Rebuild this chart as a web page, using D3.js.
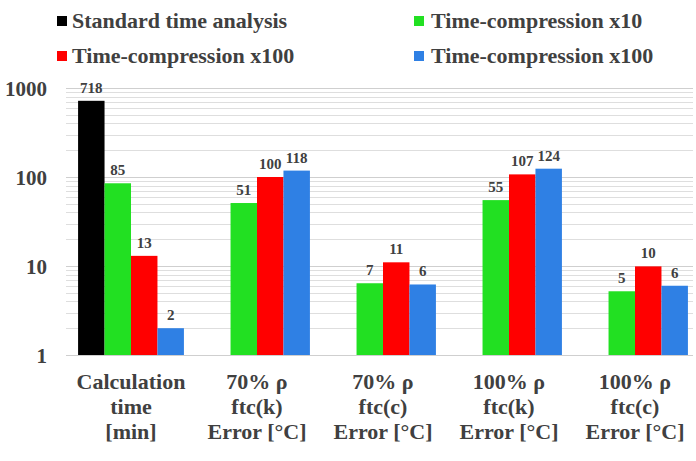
<!DOCTYPE html>
<html>
<head>
<meta charset="utf-8">
<script src="https://cdn.jsdelivr.net/npm/d3@7"></script>
<style>
  body { margin: 0; background: #fff; }
  svg text { font-family: "Liberation Serif", "Times New Roman", Times, "DejaVu Serif", serif; font-weight: bold; fill: #404040; }
</style>
</head>
<body>
<div id="body"></div>
<script>
// categories, each label split in lines
var categories = [
  ["Calculation", "time", "[min]"],
  ["70% \u03c1", "ftc(k)", "Error [\u00b0C]"],
  ["70% \u03c1", "ftc(c)", "Error [\u00b0C]"],
  ["100% \u03c1", "ftc(k)", "Error [\u00b0C]"],
  ["100% \u03c1", "ftc(c)", "Error [\u00b0C]"]
];
var seriesNames = ["Standard time analysis", "Time-compression x10", "Time-compression x100", "Time-compression x100"];
var seriesColors = ["#000000", "#22e022", "#ff0000", "#2f80e4"];

// bar heights (null = no bar)
var standardVals = [718, null, null, null, null];
var x10Vals      = [85, 51, 6.4, 55, 5.2];
var x100Vals     = [13, 100, 11, 107, 9.9];
var x100bVals    = [2, 118, 6.2, 124, 6];

// printed labels above the bars
var standardLabels = ["718", null, null, null, null];
var x10Labels      = ["85", "51", "7", "55", "5"];
var x100Labels     = ["13", "100", "11", "107", "10"];
var x100bLabels    = ["2", "118", "6", "124", "6"];

var yTicks = [1, 10, 100, 1000];

var W = 696, H = 461;
var svg = d3.select("#body").append("svg").attr("width", W).attr("height", H);

var allVals = [standardVals, x10Vals, x100Vals, x100bVals];
var allLabels = [standardLabels, x10Labels, x100Labels, x100bLabels];

var x = d3.scaleBand()
    .domain(d3.range(categories.length))
    .range([68, 698])
    .paddingInner(0.16)
    .paddingOuter(0.08);

var xs = d3.scaleBand()
    .domain(d3.range(seriesNames.length))
    .range([0, x.bandwidth()])
    .padding(0);

var y = d3.scaleLog()
    .domain([1, 1000])
    .range([355, 88]);

// gridlines (major + minor)
var grid = [];
for (var e = 0; e < 3; e++) {
  for (var m = 1; m < 10; m++) grid.push(m * Math.pow(10, e));
}
grid.push(1000);

svg.append("g").selectAll("line").data(grid).enter()
  .append("line")
  .attr("x1", 66).attr("x2", 693)
  .attr("y1", d => Math.round(y(d)) + 0.5)
  .attr("y2", d => Math.round(y(d)) + 0.5)
  .attr("stroke", d => yTicks.indexOf(d) >= 0 ? "#cfcfcf" : "#dedede")
  .attr("stroke-width", 1);

// y axis labels
var yAxis = d3.axisLeft(y).tickValues(yTicks).tickFormat(d3.format("d")).tickSize(0).tickPadding(0);
var ya = svg.append("g").attr("transform", "translate(47,0)").call(yAxis);
ya.select(".domain").remove();
ya.attr("font-family", null).attr("font-size", null);
ya.selectAll("text").attr("font-size", 21).attr("dy", "0.35em").attr("fill", "#404040");

// bars
var bars = [];
allVals.forEach(function(vals, s) {
  vals.forEach(function(v, c) {
    if (v != null) bars.push({ s: s, c: c, v: v, label: allLabels[s][c] });
  });
});

svg.append("g").selectAll("rect").data(bars).enter()
  .append("rect")
  .attr("x", d => x(d.c) + xs(d.s))
  .attr("width", xs.bandwidth())
  .attr("y", d => y(d.v))
  .attr("height", d => y(1) - y(d.v))
  .attr("fill", d => seriesColors[d.s]);

svg.append("g").selectAll("text").data(bars).enter()
  .append("text")
  .attr("x", d => x(d.c) + xs(d.s) + xs.bandwidth() / 2)
  .attr("y", d => y(d.v) - 8)
  .attr("text-anchor", "middle")
  .attr("font-size", 15)
  .text(d => d.label);

// category labels
var cat = svg.append("g").selectAll("text").data(categories).enter()
  .append("text")
  .attr("x", (d, i) => x(i) + x.bandwidth() / 2)
  .attr("y", 389)
  .attr("text-anchor", "middle")
  .attr("font-size", 22);
cat.selectAll("tspan").data(d => d).enter()
  .append("tspan")
  .attr("x", function() { return d3.select(this.parentNode).attr("x"); })
  .attr("dy", (d, i) => i === 0 ? 0 : 25)
  .text(d => d);

// legend
var legPos = [[57, 21], [414, 21], [57, 56], [414, 56]];
var leg = svg.append("g").selectAll("g").data(seriesNames).enter()
  .append("g")
  .attr("transform", (d, i) => "translate(" + legPos[i][0] + "," + legPos[i][1] + ")");
leg.append("rect").attr("x", 0).attr("y", -5).attr("width", 10).attr("height", 10)
  .attr("fill", (d, i) => seriesColors[i]);
leg.append("text").attr("x", (d, i) => i % 2 === 0 ? 15 : 17).attr("y", 6.5)
  .attr("font-size", 22).text(d => d);
</script>
</body>
</html>
